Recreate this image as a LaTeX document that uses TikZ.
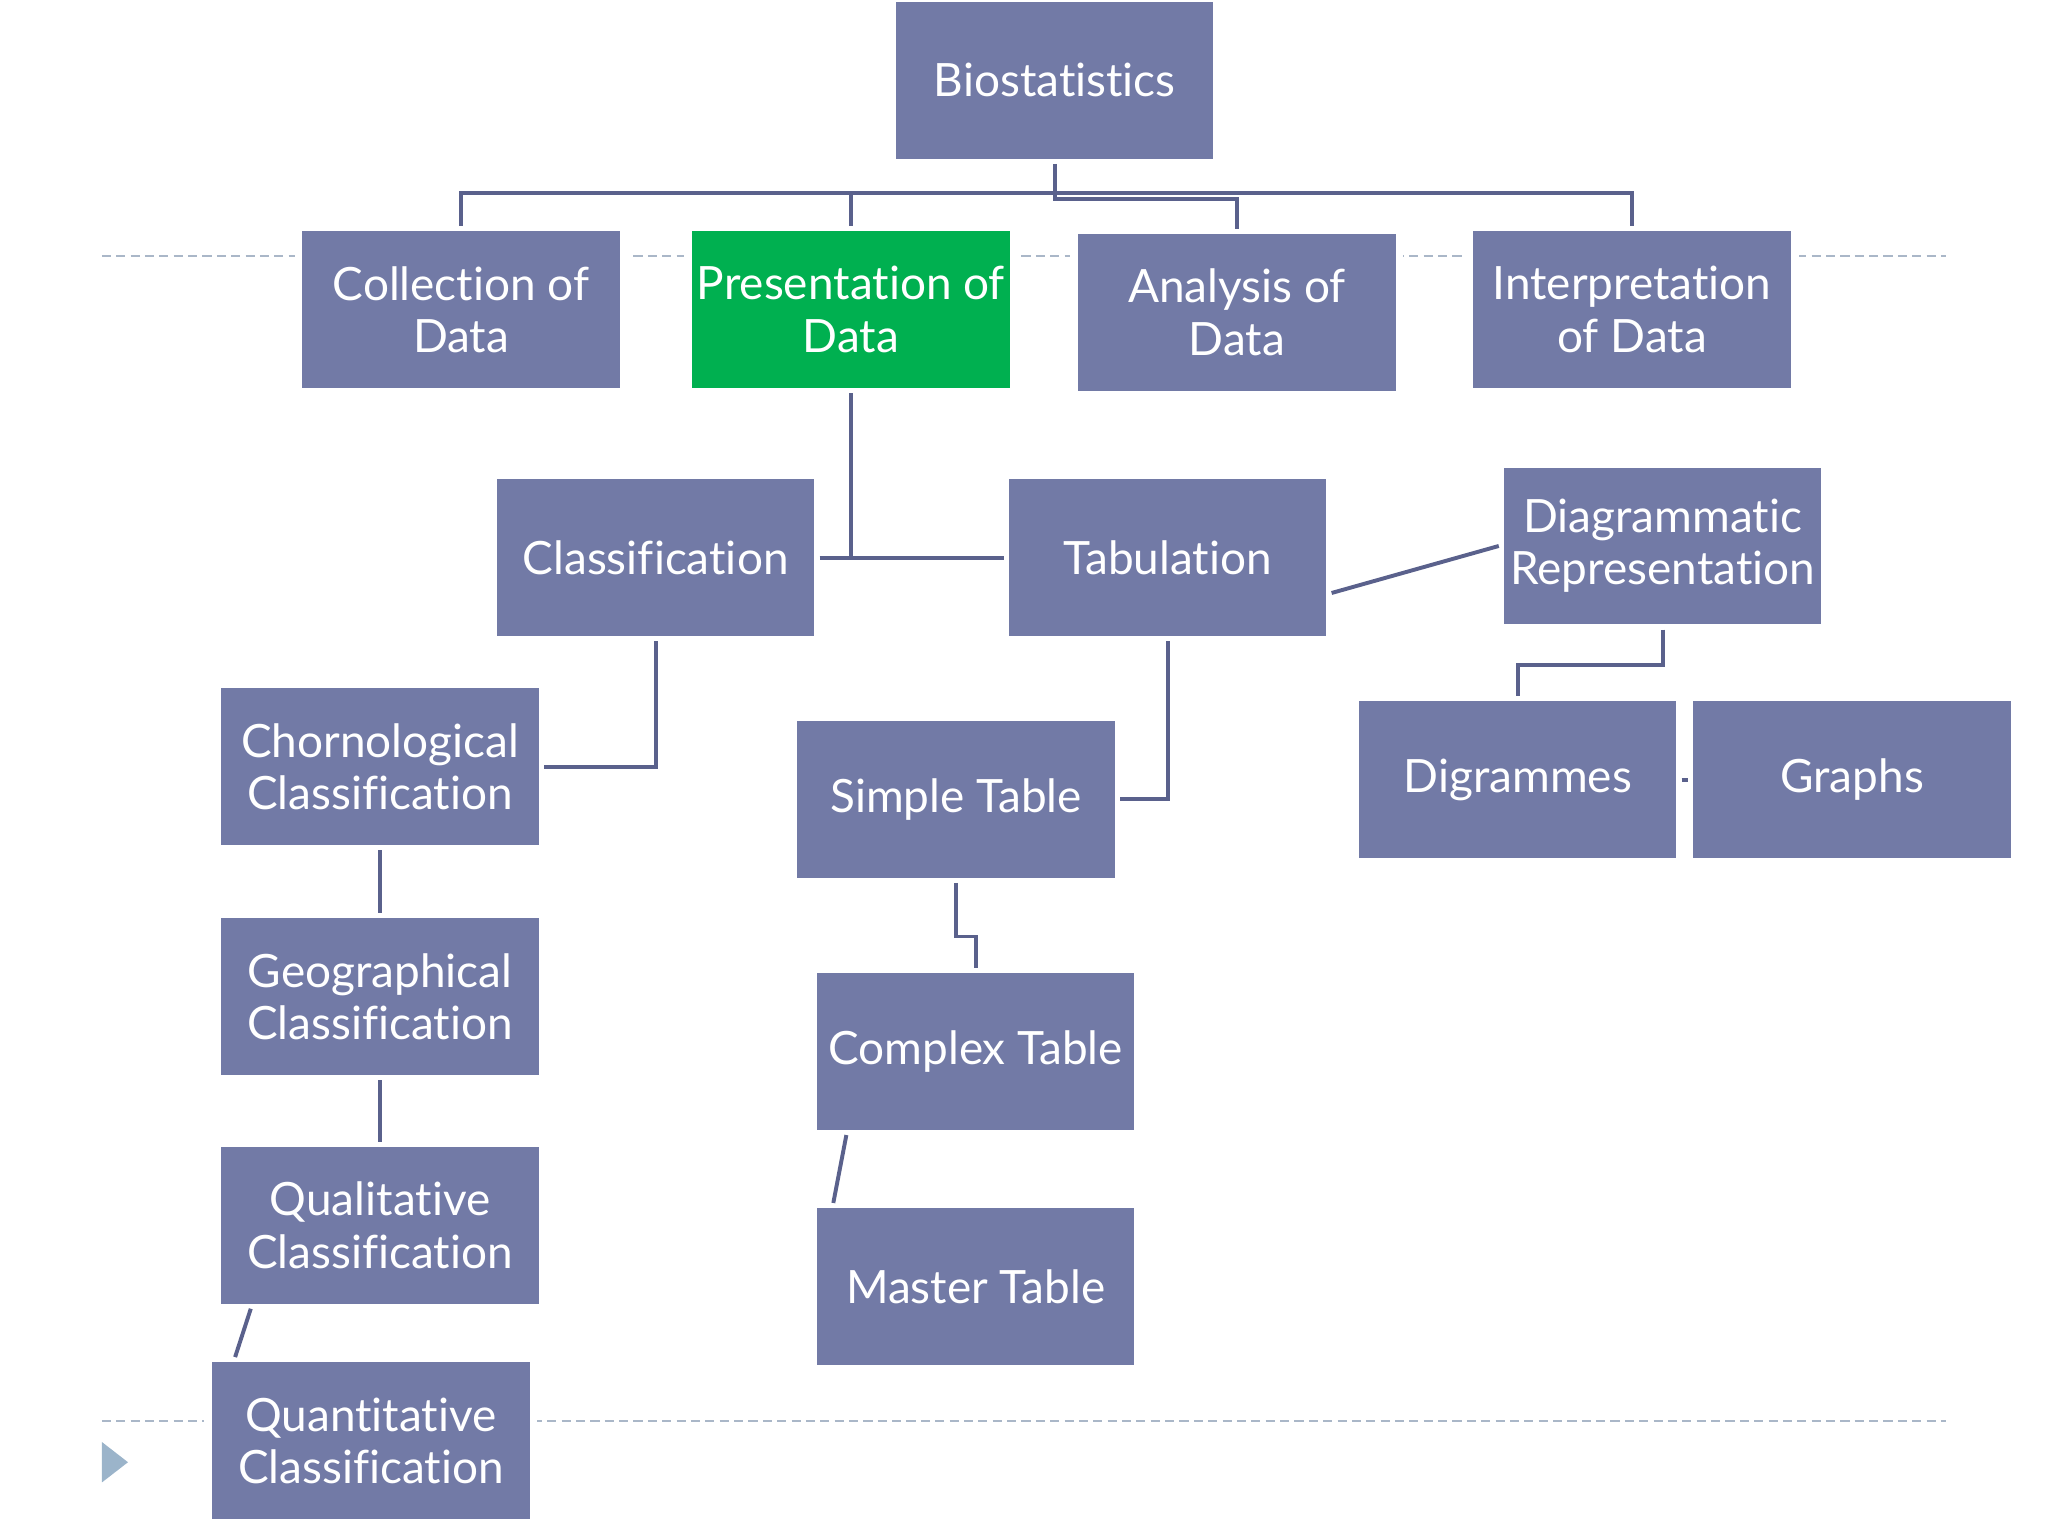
\documentclass[tikz,border=0pt]{standalone}
\usepackage{fontspec}
\setmainfont{Lato}[Ligatures=NoCommon]
\definecolor{mslate}{RGB}{114,122,166}
\definecolor{mgreen}{RGB}{0,176,80}
\definecolor{mline}{RGB}{90,97,140}
\definecolor{mdash}{RGB}{170,183,200}
\definecolor{mtri}{RGB}{155,180,202}

\begin{document}
\begin{tikzpicture}[x=0.2mm,y=-0.2mm,
    box/.style={rectangle,fill=mslate,draw=white,line width=1.2mm,text=white,align=center,
      minimum width=49.8mm,minimum height=25.2mm,inner sep=0pt,outer sep=0.2mm,
      font=\fontsize{20}{22.8}\selectfont},
    hl/.style={box,fill=mgreen},
    link/.style={draw=mline,line width=0.6mm},
    guide/.style={draw=mdash,line width=0.3mm,dash pattern=on 1.4mm off 0.8mm}]
  \useasboundingbox (0,0) rectangle (1568,1176);
  % slide guides
  \draw[guide] (78,196) -- (1490,196);
  \draw[guide] (78,1088) -- (1490,1088);
  \fill[mtri] (78,1104) -- (98,1119.5) -- (78,1135) -- cycle;

  \node[box] (bio) at (807.5,61.5) {Biostatistics};
  \node[box] (coll) at (353,237) {Collection of\\Data};
  \node[hl] (pres) at (651.5,237) {Presentation of\\Data};
  \node[box] (anal) at (947,239) {Analysis of\\Data};
  \node[box] (interp) at (1249.5,237) {Interpretation\\of Data};
  \node[box] (clsf) at (502,427) {Classification};
  \node[box] (tab) at (894,427) {Tabulation};
  \node[box] (diag) at (1273,418) {Diagrammatic\\Representation};
  \node[box] (chrono) at (291,587) {Chornological\\Classification};
  \node[box] (geo) at (291,763) {Geographical\\Classification};
  \node[box] (qual) at (291,938) {Qualitative\\Classification};
  \node[box] (quant) at (284,1103) {Quantitative\\Classification};
  \node[box] (simple) at (732,612) {Simple Table};
  \node[box] (cplx) at (747,805) {Complex Table};
  \node[box] (master) at (747,985) {Master Table};
  \node[box] (digr) at (1162,597) {Digrammes};
  \node[box] (graphs) at (1418,597) {Graphs};

  % top level
  \draw[link] (coll.north) -- ++(0,-25) -| (interp.north);
  \draw[link] (pres.north) -- ++(0,-25);
  \draw[link] (bio.south) -- ++(0,27) -| (anal.north);
  % presentation branch
  \draw[link] (pres.south) -- (pres.south |- clsf.east);
  \draw[link] (clsf.east) -- (tab.west);
  \draw[link] ([yshift=-5.4mm]tab.east) -- (diag.west);
  \draw[link] (diag.south) -- ++(0,27) -| (digr.north);
  \draw[link] (digr.east) -- (graphs.west);
  \draw[link] (clsf.south) |- (chrono.east);
  \draw[link] (chrono.south) -- (geo.north);
  \draw[link] (geo.south) -- (qual.north);
  \draw[link] ([xshift=-19.8mm]qual.south) -- ([xshift=-20.8mm]quant.north);
  \draw[link] (tab.south) |- (simple.east);
  \draw[link] (simple.south) -- ++(0,41) -| (cplx.north);
  \draw[link] ([xshift=-19.8mm]cplx.south) -- ([xshift=-21.8mm]master.north);
\end{tikzpicture}
\end{document}
